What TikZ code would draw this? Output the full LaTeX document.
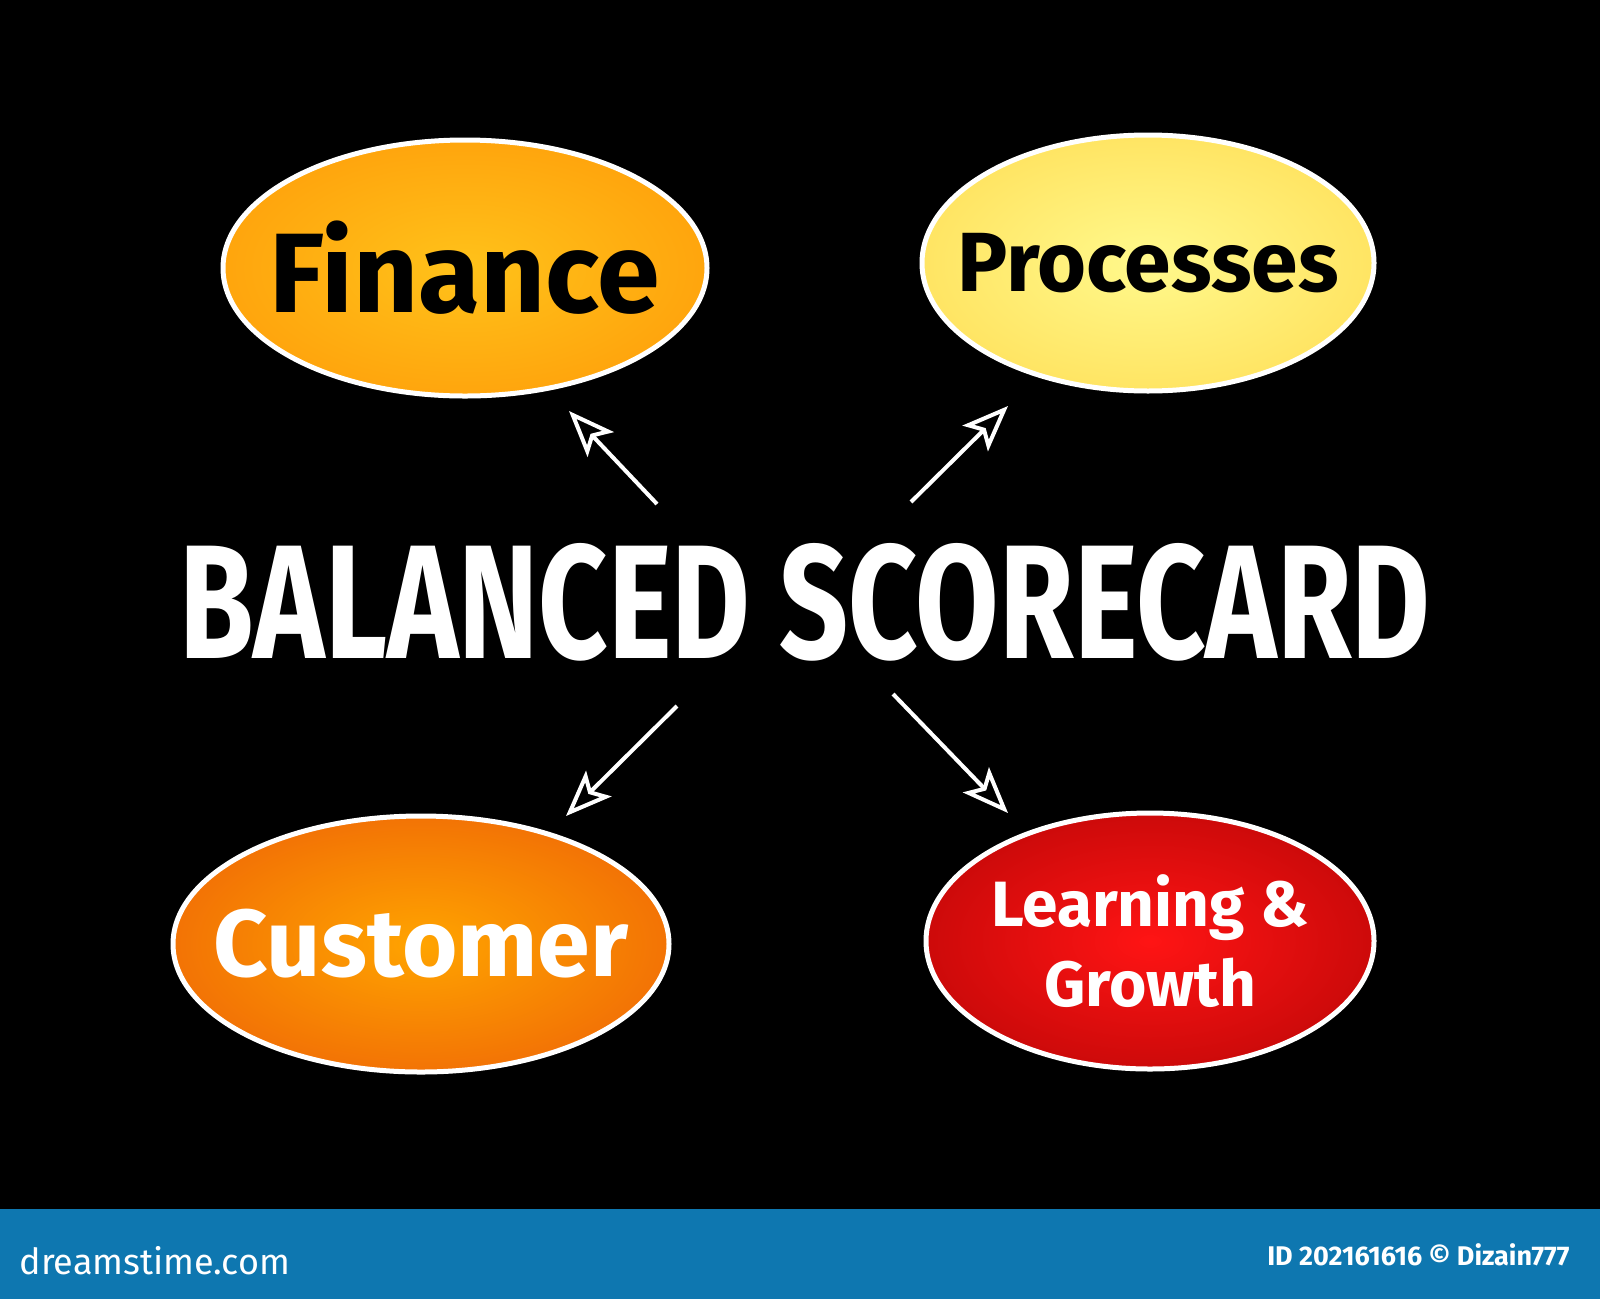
\documentclass[tikz,border=0pt]{standalone}
\usepackage{fontspec}
\setmainfont{Fira Sans}
\usetikzlibrary{shapes.geometric,arrows.meta}

\definecolor{finin}{HTML}{FFC21A}
\definecolor{finout}{HTML}{FF8800}
\definecolor{proin}{HTML}{FFF98C}
\definecolor{proout}{HTML}{FFD03A}
\definecolor{cusin}{HTML}{FFA400}
\definecolor{cusout}{HTML}{E6420A}
\definecolor{lrnin}{HTML}{FF1414}
\definecolor{lrnout}{HTML}{9A0000}
\definecolor{barblue}{HTML}{0E77B0}

\pgfdeclareradialshading{finshade}{\pgfpointorigin}{color(0bp)=(finin); color(50bp)=(finout)}
\pgfdeclareradialshading{proshade}{\pgfpointorigin}{color(0bp)=(proin); color(50bp)=(proout)}
\pgfdeclareradialshading{cusshade}{\pgfpointorigin}{color(0bp)=(cusin); color(50bp)=(cusout)}
\pgfdeclareradialshading{lrnshade}{\pgfpointorigin}{color(0bp)=(lrnin); color(50bp)=(lrnout)}

\tikzset{
  oval/.style={ellipse, draw=white, line width=5pt, minimum height=256pt},
  sketch/.style={white, line width=4pt,
    -{Stealth[open, length=46pt, width=36pt, inset=10pt, line width=4pt]}}
}

\begin{document}
\begin{tikzpicture}[x=1pt, y=-1pt]
    % background and the bar at the bottom
    \fill[black] (0,0) rectangle (1600,1299);
    \useasboundingbox (0,0) rectangle (1600,1299);
    \fill[barblue] (0,1209) rectangle (1600,1299);

    % the four ovals
    \node[oval, shading=finshade, minimum width=484pt] (finance) at (465,268) {};
    \node[oval, shading=proshade, minimum width=452pt] (processes) at (1148,263) {};
    \node[oval, shading=cusshade, minimum width=496pt] (customer) at (421,944) {};
    \node[oval, shading=lrnshade, minimum width=448pt] (learning) at (1150,941) {};

    % the texts
    \node[font=\fontsize{113}{113}\selectfont\bfseries] (finance-txt) at (finance) {Finance};
    \node[font=\fontsize{84}{84}\selectfont\bfseries] (processes-txt) at (processes) {Processes};
    \node[white, font=\fontsize{95}{95}\selectfont\bfseries] (customer-txt) at (customer) {Customer};
    \node[white, align=center, font=\fontsize{64}{80}\selectfont\bfseries] (learning-txt) at (learning) {Learning \&\\Growth};
    \node[white, yscale=1.34, font=\fontsize{121}{121}\selectfont\bfseries] (bsc) at (805,602) {BALANCED SCORECARD};

    % the ends of the arrows (they float free of the title and the ovals)
    \coordinate (f0) at (657,504);
    \coordinate (f1) at (569,411);
    \coordinate (p0) at (911,502);
    \coordinate (p1) at (1008,406);
    \coordinate (c0) at (677,706);
    \coordinate (c1) at (566,816);
    \coordinate (l0) at (893,694);
    \coordinate (l1) at (1008,813);

    % draw the arrows
    \draw[sketch] (f0) -- (f1);
    \draw[sketch] (p0) -- (p1);
    \draw[sketch] (c0) -- (c1);
    \draw[sketch] (l0) -- (l1);

    % bar texts
    \node[white, anchor=west, font=\fontsize{36}{36}\selectfont] (site) at (16,1261) {dreamstime.com};
    \node[white, anchor=east, font=\fontsize{27}{27}\selectfont\bfseries] (credit) at (1573,1255) {ID 202161616 © Dizain777};

\end{tikzpicture}
\end{document}
